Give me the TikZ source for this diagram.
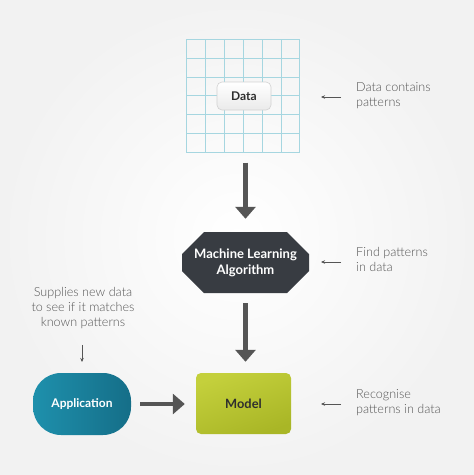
\documentclass[tikz,border=0pt]{standalone}
\usepackage{fontspec}
\setmainfont{Lato}
\newfontfamily\lightfont{Lato Light}
\usetikzlibrary{arrows.meta,shapes.misc,calc}
\definecolor{bgout}{HTML}{F2F2F2}
\definecolor{gridcol}{HTML}{A6D6E0}
\definecolor{arrowgray}{HTML}{555555}
\definecolor{txtgray}{HTML}{555555}
\definecolor{mlfill}{HTML}{383C42}
\definecolor{modeltop}{HTML}{C4D03C}
\definecolor{modelbot}{HTML}{A9B626}
\definecolor{apptop}{HTML}{1E90AC}
\definecolor{appbot}{HTML}{156E88}
\definecolor{databorder}{HTML}{D2D2D2}
\definecolor{databot}{HTML}{EAEAEA}
\definecolor{darktext}{HTML}{2E2E2E}
\tikzset{
  bigarrow/.style={draw=arrowgray, line width=4.5pt, -{Triangle[width=20pt,length=12pt]}},
  smallarrow/.style={draw=txtgray, line width=0.6pt, -{Stealth[width=3.5pt,length=4pt]}},
  note/.style={font=\lightfont\fontsize{12.6}{15}\selectfont, text=txtgray, inner sep=0pt},
  databox/.style={draw=databorder, line width=0.6pt, rounded corners=5pt, top color=white, bottom color=databot,
    minimum width=54pt, minimum height=28pt, font=\bfseries\fontsize{12}{14}\selectfont, text=darktext, inner sep=0pt},
  mlbox/.style={chamfered rectangle, chamfered rectangle xsep=11pt, chamfered rectangle ysep=11pt, fill=mlfill,
    minimum width=127pt, minimum height=61pt, inner sep=0pt, text=white, align=center,
    font=\bfseries\fontsize{13}{16}\selectfont},
  modelbox/.style={rounded corners=5pt, top color=modeltop, bottom color=modelbot, shading angle=20,
    minimum width=95pt, minimum height=61pt, inner sep=0pt, text=darktext, font=\bfseries\fontsize{12.8}{14}\selectfont},
  appbox/.style={rounded corners=28pt, left color=apptop, right color=appbot,
    minimum width=98pt, minimum height=62pt, inner sep=0pt, text=white, font=\bfseries\fontsize{12}{14}\selectfont},
}
\begin{document}
\begin{tikzpicture}[x=1pt,y=-1pt]
\useasboundingbox (0,0) rectangle (474,475);
\shade[inner color=white, outer color=bgout] (0,0) rectangle (474,475);
% grid
\node[minimum width=113pt, minimum height=113pt, inner sep=0pt] (grid) at (243.5,96) {};
\foreach \i in {0,...,6} {
  \draw[gridcol, line width=0.7pt] ($(grid.north west)+(\i*18.833,0)$) -- ($(grid.south west)+(\i*18.833,0)$);
  \draw[gridcol, line width=0.7pt] ($(grid.north west)+(0,\i*18.833)$) -- ($(grid.north east)+(0,\i*18.833)$);
}
\node[databox] (data) at (244,96) {Data};
\node[mlbox] (ml) at (245.5,262.5) {Machine Learning\\Algorithm};
\node[modelbox] (model) at (243.5,403.5) {Model};
\node[appbox] (app) at (82,404) {Application};
% big arrows
\draw[bigarrow, shorten <=10pt, shorten >=13pt] (grid.south -| ml.north) -- (ml.north);
\draw[bigarrow, shorten <=10pt, shorten >=11pt] (ml.south) -- (ml.south |- model.north);
\draw[bigarrow, shorten <=9pt, shorten >=11pt] (app.east) -- (app.east -| model.west);
% notes
\node[note, anchor=west, align=left] (n1) at (356,96) {Data contains\\patterns};
\node[note, anchor=west, align=left] (n2) at (356,259) {Find patterns\\in data};
\node[note, anchor=west, align=left] (n3) at (356,403) {Recognise\\patterns in data};
\node[note, align=center] (n4) at (83,308) {Supplies new data\\to see if it matches\\known patterns};
\coordinate (a1) at (321,97);
\coordinate (a2) at (321,262);
\coordinate (a3) at (321,404);
\coordinate (a4) at (82,362);
\draw[smallarrow] (n1.west |- a1) ++(-15,0) -- (a1);
\draw[smallarrow] (n2.west |- a2) ++(-15,0) -- (a2);
\draw[smallarrow] (n3.west |- a3) ++(-15,0) -- (a3);
\draw[smallarrow] (n4.south -| a4) ++(0,16) -- (a4);
\end{tikzpicture}
\end{document}
